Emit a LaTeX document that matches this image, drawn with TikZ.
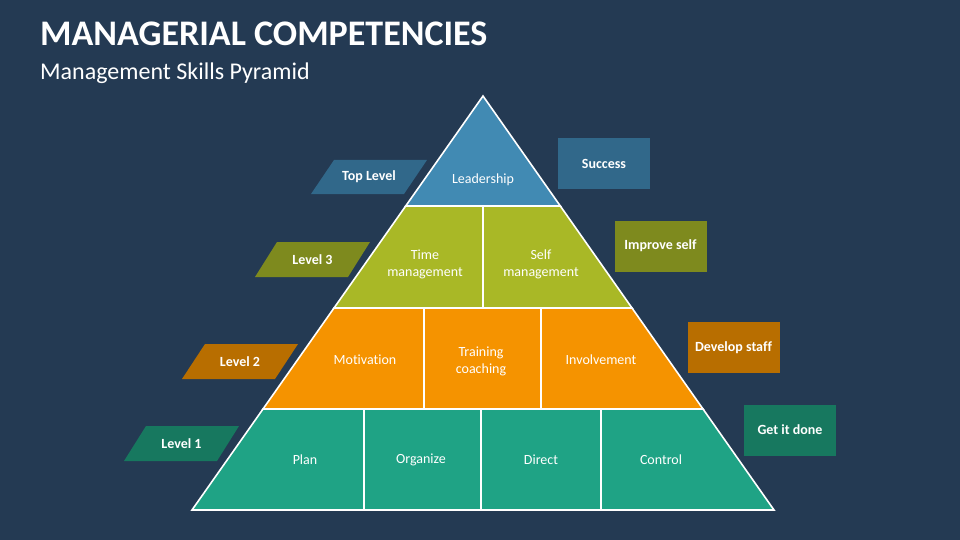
\documentclass[tikz,border=0pt]{standalone}
\usepackage{fontspec}
\setmainfont[Ligatures=NoCommon]{Carlito}
\definecolor{bg}{HTML}{243A53}
\definecolor{topc}{HTML}{418AB3}
\definecolor{topd}{HTML}{31688A}
\definecolor{limec}{HTML}{A9B826}
\definecolor{limed}{HTML}{7E8A1E}
\definecolor{orc}{HTML}{F59300}
\definecolor{ord}{HTML}{B86E00}
\definecolor{tealc}{HTML}{1FA385}
\definecolor{teald}{HTML}{17785F}
\tikzset{
  piece/.style={draw=white, line width=1.6pt, line join=miter},
  ptext/.style={text=white, align=center, font=\fontsize{14}{17}\selectfont},
  btext/.style={text=white, align=center, font=\bfseries\fontsize{14}{17}\selectfont},
  sidebox/.style={minimum width=92pt, minimum height=51pt, inner sep=0pt, text=white, font=\bfseries\fontsize{14}{17}\selectfont},
}
\begin{document}
\begin{tikzpicture}[x=1pt,y=-1pt]
\fill[bg] (0,0) rectangle (960,540);
\useasboundingbox (0,0) rectangle (960,540);

% title
\node[anchor=base west, inner sep=0pt, text=white, font=\bfseries\fontsize{36}{42}\selectfont] (title) at (40,46) {MANAGERIAL COMPETENCIES};
\node[anchor=base west, inner sep=0pt, text=white, font=\fontsize{24}{28}\selectfont] (subtitle) at (40,80) {Management Skills Pyramid};

% pyramid coordinates
\coordinate (apex) at (483,96);
\coordinate (l1) at (405.7,206); \coordinate (r1) at (560.3,206);
\coordinate (l2) at (334,308);   \coordinate (r2) at (632,308);
\coordinate (l3) at (263,409);   \coordinate (r3) at (703,409);
\coordinate (l4) at (192,510);   \coordinate (r4) at (774,510);

% fills
\fill[topc] (apex) -- (r1) -- (l1) -- cycle;
\fill[limec] (l1) -- (r1) -- (r2) -- (l2) -- cycle;
\fill[orc] (l2) -- (r2) -- (r3) -- (l3) -- cycle;
\fill[tealc] (l3) -- (r3) -- (r4) -- (l4) -- cycle;

% outlines and dividers
\draw[piece] (apex) -- (r1) -- (l1) -- cycle;
\draw[piece] (l1) -- (r1) -- (r2) -- (l2) -- cycle;
\draw[piece] (l2) -- (r2) -- (r3) -- (l3) -- cycle;
\draw[piece] (l3) -- (r3) -- (r4) -- (l4) -- cycle;
\draw[piece] (483,206) -- (483,308);
\draw[piece] (424,308) -- (424,409);
\draw[piece] (541,308) -- (541,409);
\draw[piece] (364,409) -- (364,510);
\draw[piece] (481,409) -- (481,510);
\draw[piece] (601,409) -- (601,510);

% pyramid texts
\node[ptext] (lead) at (483,180) {Leadership};
\node[ptext] (time) at (425,264) {Time\\management};
\node[ptext] (self) at (541,264) {Self\\management};
\node[ptext] (motiv) at (365,360) {Motivation};
\node[ptext] (train) at (481,361) {Training\\coaching};
\node[ptext] (invol) at (601,360) {Involvement};
\node[ptext] (plan) at (305,460) {Plan};
\node[ptext] (org) at (421,460) {Organize};
\node[ptext] (dir) at (541,460) {Direct};
\node[ptext] (ctrl) at (661,460) {Control};

% level parallelograms (left)
\fill[topd] (311,194) -- (404,194) -- (427,160) -- (334,160) -- cycle;
\node[btext] (ltop) at (369,177) {Top Level};
\fill[limed] (255,277) -- (348,277) -- (370,242) -- (277,242) -- cycle;
\node[btext] (lv3) at (312.5,259.5) {Level 3};
\fill[ord] (182,379) -- (275,379) -- (298,344) -- (205,344) -- cycle;
\node[btext] (lv2) at (240,361.5) {Level 2};
\fill[teald] (124,461) -- (217,461) -- (239,426) -- (146,426) -- cycle;
\node[btext] (lv1) at (181.5,443.5) {Level 1};

% right boxes
\node[sidebox, fill=topd] (succ) at (604,163.5) {Success};
\node[sidebox, fill=limed] (impr) at (660.5,246) {Improve self};
\node[sidebox, fill=ord] (dev) at (733.5,347.5) {Develop staff};
\node[sidebox, fill=teald] (done) at (790,430) {Get it done};
\end{tikzpicture}
\end{document}
